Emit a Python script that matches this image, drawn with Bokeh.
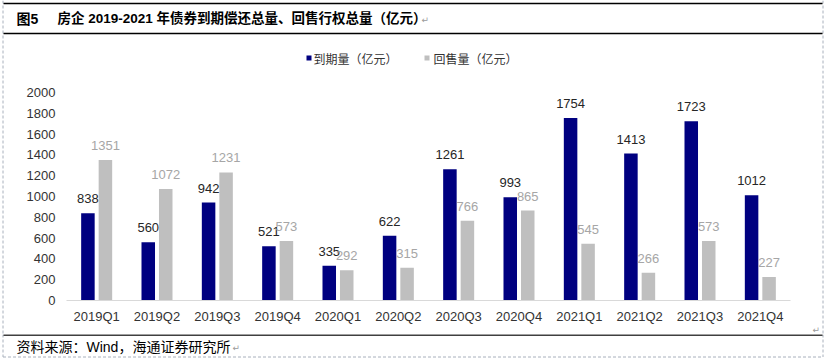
from bokeh.plotting import figure
from bokeh.layouts import column, row
from bokeh.models import FactorRange, ColumnDataSource, LabelSet, Range1d
from bokeh.core.properties import value
from bokeh.transform import dodge
from bokeh.embed import file_html
from bokeh.resources import INLINE

# Quarterly real-estate bond maturities and put-option exercises (100 million yuan)
quarters = ["2019Q1", "2019Q2", "2019Q3", "2019Q4",
            "2020Q1", "2020Q2", "2020Q3", "2020Q4",
            "2021Q1", "2021Q2", "2021Q3", "2021Q4"]
maturity = [838, 560, 942, 521, 335, 622, 1261, 993, 1754, 1413, 1723, 1012]
putback = [1351, 1072, 1231, 573, 292, 315, 766, 865, 545, 266, 573, 227]
y_ticks = [0, 200, 400, 600, 800, 1000, 1200, 1400, 1600, 1800, 2000]

fig_no = "图5"
title_text = "房企 2019-2021 年债券到期偿还总量、回售行权总量（亿元）"
source_text = "资料来源：Wind，海通证券研究所"
series_names = ["到期量（亿元）", "回售量（亿元）"]
series_colors = ["#000080", "#bfbfbf"]

LATIN = "Liberation Sans"
MIXED = "Liberation Sans, Noto Sans CJK SC"
CJK = "Noto Sans CJK SC"
DASH_COLOR = "#a8b0bc"
DASH = "3 2"
W = 825
LEFT_W = 4
RIGHT_W = 16


def band(width, height):
    """A figure whose plot area fills the whole canvas, in pixel coordinates from the top-left."""
    f = figure(width=width, height=height, output_backend="svg", toolbar_location=None,
               x_range=Range1d(0, width), y_range=Range1d(height, 0),
               x_axis_type=None, y_axis_type=None, frame_align=False,
               min_border_left=0, min_border_right=0, min_border_top=0, min_border_bottom=0)
    f.outline_line_color = None
    f.grid.visible = False
    f.background_fill_color = "white"
    f.border_fill_color = "white"
    return f


def return_mark(f, x, y):
    f.text(x=[x], y=[y], text=["↵"], text_font=value("DejaVu Sans"), text_font_size="9px",
           text_color="#9a9a9a", text_baseline="middle")


# ---- header: rule lines, title and legend ----
HEAD_H = 70
head = band(W, HEAD_H)
head.segment(x0=[2.5, 822.5], x1=[2.5, 822.5], y0=[0, 0], y1=[HEAD_H, HEAD_H],
             line_color=DASH_COLOR, line_dash=DASH, line_width=1)
head.segment(x0=[3, 3], x1=[822, 822], y0=[3, 33], y1=[3, 33], line_color="black", line_width=1.5)
head.text(x=[16], y=[18], text=[fig_no], text_font=value(MIXED), text_font_size="14px",
          text_font_style="bold", text_color="black", text_baseline="middle")
head.text(x=[57], y=[18], text=[title_text], text_font=value(MIXED), text_font_size="13.5px",
          text_font_style="bold", text_color="black", text_baseline="middle")
return_mark(head, 421, 19)
head.scatter(x=[308.5, 426.5], y=[57.5, 57.5], marker="square", size=5,
             fill_color=series_colors, line_color=None)
head.text(x=[313, 433], y=[57.5, 57.5], text=series_names, text_font=value(CJK),
          text_font_size="12px", text_color="#333333", text_baseline="middle")

# ---- main chart ----
MAIN_H = 264
src = ColumnDataSource(dict(
    q=quarters, due=maturity, put=putback,
    due_lbl=[str(v) for v in maturity], put_lbl=[str(v) for v in putback],
))

p = figure(width=W - LEFT_W - RIGHT_W, height=MAIN_H, output_backend="svg", toolbar_location=None,
           x_range=FactorRange(factors=quarters, range_padding=0),
           y_range=Range1d(0, 2000), frame_align=False,
           min_border_left=66 - LEFT_W, min_border_right=35 - RIGHT_W,
           min_border_top=22, min_border_bottom=34)
p.background_fill_color = "white"
p.border_fill_color = "white"
p.outline_line_color = None
p.grid.grid_line_color = None

bar_w = 0.224
off = 0.145
p.vbar(x=dodge("q", -off, range=p.x_range), top="due", width=bar_w,
       source=src, fill_color=series_colors[0], line_color=None)
p.vbar(x=dodge("q", off, range=p.x_range), top="put", width=bar_w,
       source=src, fill_color=series_colors[1], line_color=None)

p.add_layout(LabelSet(x=dodge("q", -off, range=p.x_range), y="due", text="due_lbl",
                      source=src, y_offset=10, text_align="center", text_baseline="alphabetic",
                      text_font_size="13px", text_font=value(LATIN), text_color="#262626"))
p.add_layout(LabelSet(x=dodge("q", off, range=p.x_range), y="put", text="put_lbl",
                      source=src, y_offset=10, text_align="center", text_baseline="alphabetic",
                      text_font_size="13px", text_font=value(LATIN), text_color="#a6a6a6"))

p.yaxis.ticker = y_ticks
p.yaxis.axis_line_color = None
p.yaxis.major_tick_line_color = None
p.yaxis.minor_tick_line_color = None
p.yaxis.major_tick_out = 0
p.yaxis.major_tick_in = 0
p.yaxis.major_label_standoff = 11
p.yaxis.major_label_text_font = LATIN
p.yaxis.major_label_text_font_size = "13px"
p.yaxis.major_label_text_color = "#333333"

p.xaxis.axis_line_color = "#d9d9d9"
p.xaxis.major_tick_line_color = None
p.xaxis.minor_tick_line_color = None
p.xaxis.major_tick_out = 0
p.xaxis.major_tick_in = 0
p.xaxis.major_label_standoff = 8
p.xaxis.major_label_text_font = LATIN
p.xaxis.major_label_text_font_size = "13px"
p.xaxis.major_label_text_color = "#333333"

# dashed page edges beside the chart
left_edge = band(LEFT_W, MAIN_H)
left_edge.segment(x0=[2.5], x1=[2.5], y0=[0], y1=[MAIN_H],
                  line_color=DASH_COLOR, line_dash=DASH, line_width=1)
right_edge = band(RIGHT_W, MAIN_H)
rx = 822.5 - (W - RIGHT_W)
right_edge.segment(x0=[rx], x1=[rx], y0=[0], y1=[MAIN_H],
                   line_color=DASH_COLOR, line_dash=DASH, line_width=1)
return_mark(right_edge, 3, 259)

# ---- footer: rule line and source note ----
FOOT_H = 26
foot = band(W, FOOT_H)
foot.segment(x0=[2.5, 822.5, 2.5], x1=[2.5, 822.5, 822.5], y0=[0, 0, 22.5], y1=[22.5, 22.5, 22.5],
             line_color=DASH_COLOR, line_dash=DASH, line_width=1)
foot.segment(x0=[3], x1=[822], y0=[0.5], y1=[0.5], line_color="black", line_width=1.5)
foot.text(x=[16], y=[12], text=[source_text], text_font=value(MIXED), text_font_size="14px",
          text_color="black", text_baseline="middle")
return_mark(foot, 232, 13)

page = column(head, row(left_edge, p, right_edge, spacing=0), foot, spacing=0)

open("out.html", "w").write(file_html(page, INLINE))
